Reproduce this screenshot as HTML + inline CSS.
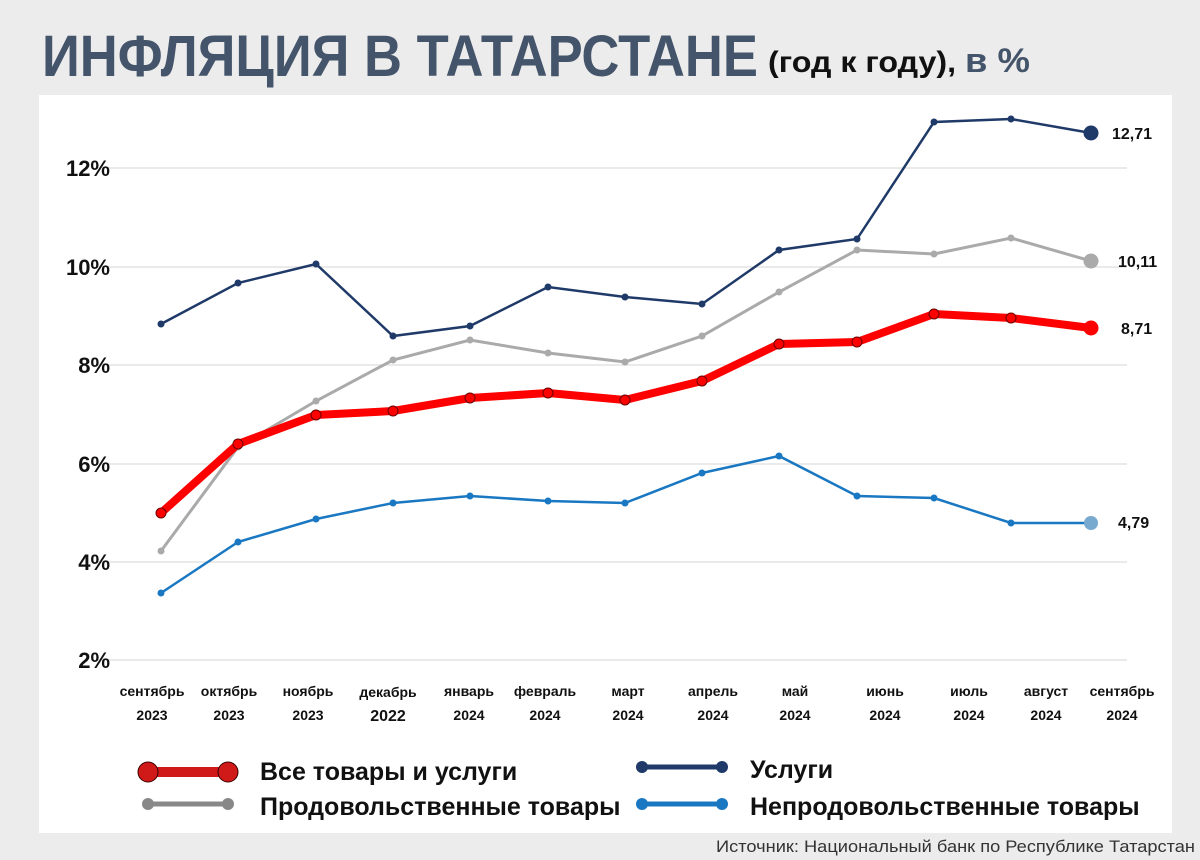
<!DOCTYPE html>
<html><head><meta charset="utf-8"><style>
body{margin:0;width:1200px;height:860px;background:#ececec;overflow:hidden;font-family:"Liberation Sans","DejaVu Sans",sans-serif;}
</style></head><body>
<svg width="1200" height="860" xmlns="http://www.w3.org/2000/svg" style="position:absolute;left:0;top:0">
<text x="42" y="76" font-size="58" font-weight="bold" fill="#44546a" font-family="Liberation Sans, sans-serif" textLength="716" lengthAdjust="spacingAndGlyphs">ИНФЛЯЦИЯ В ТАТАРСТАНЕ</text>
<text x="768" y="72" font-size="30" font-weight="bold" fill="#111" font-family="Liberation Sans, sans-serif" textLength="262" lengthAdjust="spacingAndGlyphs">(год к году), <tspan fill="#44546a" font-size="34">в %</tspan></text>
<rect x="39" y="95" width="1133" height="738" fill="#fff"/>
<g stroke="#e4e4e4" stroke-width="1.5">
<line x1="108" y1="168" x2="1127" y2="168"/><line x1="108" y1="267" x2="1127" y2="267"/><line x1="108" y1="365" x2="1127" y2="365"/><line x1="108" y1="464" x2="1127" y2="464"/><line x1="108" y1="562" x2="1127" y2="562"/><line x1="108" y1="660" x2="1127" y2="660"/>
</g>
<g font-size="22" font-weight="bold" fill="#111" text-anchor="end">
<text x="110" y="176">12%</text><text x="110" y="275">10%</text><text x="110" y="373">8%</text><text x="110" y="472">6%</text><text x="110" y="570">4%</text><text x="110" y="668">2%</text>
</g>
<g font-size="14" font-weight="bold" fill="#111" text-anchor="middle">
<text x="152" y="696">сентябрь</text><text x="152" y="720">2023</text>
<text x="229" y="696">октябрь</text><text x="229" y="720">2023</text>
<text x="308" y="696">ноябрь</text><text x="308" y="720">2023</text>
<text x="388" y="697">декабрь</text><text x="388" y="721" font-size="16">2022</text>
<text x="469" y="696">январь</text><text x="469" y="720">2024</text>
<text x="545" y="696">февраль</text><text x="545" y="720">2024</text>
<text x="628" y="696">март</text><text x="628" y="720">2024</text>
<text x="713" y="696">апрель</text><text x="713" y="720">2024</text>
<text x="795" y="696">май</text><text x="795" y="720">2024</text>
<text x="885" y="696">июнь</text><text x="885" y="720">2024</text>
<text x="969" y="696">июль</text><text x="969" y="720">2024</text>
<text x="1046" y="696">август</text><text x="1046" y="720">2024</text>
<text x="1122" y="696">сентябрь</text><text x="1122" y="720">2024</text>
</g>
<polyline fill="none" stroke="#aaaaaa" stroke-width="3" points="161,551 238,447 316,401 393,360 470,340 548,353 625,362 702,336 779,292 857,250 934,254 1011,238 1091,261"/>
<g fill="#aaaaaa"><circle cx="161" cy="551" r="3.5"/><circle cx="238" cy="447" r="3.5"/><circle cx="316" cy="401" r="3.5"/><circle cx="393" cy="360" r="3.5"/><circle cx="470" cy="340" r="3.5"/><circle cx="548" cy="353" r="3.5"/><circle cx="625" cy="362" r="3.5"/><circle cx="702" cy="336" r="3.5"/><circle cx="779" cy="292" r="3.5"/><circle cx="857" cy="250" r="3.5"/><circle cx="934" cy="254" r="3.5"/><circle cx="1011" cy="238" r="3.5"/><circle cx="1091" cy="261" r="7.5"/></g>
<polyline fill="none" stroke="#1f3a68" stroke-width="2.5" points="161,324 238,283 316,264 393,336 470,326 548,287 625,297 702,304 779,250 857,239 934,122 1011,119 1091,133"/>
<g fill="#1f3a68"><circle cx="161" cy="324" r="3.5"/><circle cx="238" cy="283" r="3.5"/><circle cx="316" cy="264" r="3.5"/><circle cx="393" cy="336" r="3.5"/><circle cx="470" cy="326" r="3.5"/><circle cx="548" cy="287" r="3.5"/><circle cx="625" cy="297" r="3.5"/><circle cx="702" cy="304" r="3.5"/><circle cx="779" cy="250" r="3.5"/><circle cx="857" cy="239" r="3.5"/><circle cx="934" cy="122" r="3.5"/><circle cx="1011" cy="119" r="3.5"/><circle cx="1091" cy="133" r="7.5"/></g>
<polyline fill="none" stroke="#1a78c2" stroke-width="2.5" points="161,593 238,542 316,519 393,503 470,496 548,501 625,503 702,473 779,456 857,496 934,498 1011,523 1091,523"/>
<g fill="#1a78c2"><circle cx="161" cy="593" r="3.5"/><circle cx="238" cy="542" r="3.5"/><circle cx="316" cy="519" r="3.5"/><circle cx="393" cy="503" r="3.5"/><circle cx="470" cy="496" r="3.5"/><circle cx="548" cy="501" r="3.5"/><circle cx="625" cy="503" r="3.5"/><circle cx="702" cy="473" r="3.5"/><circle cx="779" cy="456" r="3.5"/><circle cx="857" cy="496" r="3.5"/><circle cx="934" cy="498" r="3.5"/><circle cx="1011" cy="523" r="3.5"/><circle cx="1091" cy="523" r="7" fill="#78a9cf"/></g>
<polyline fill="none" stroke="#ff0000" stroke-width="8" stroke-linejoin="round" points="161,513 238,444 316,415 393,411 470,398 548,393 625,400 702,381 779,344 857,342 934,314 1011,318 1091,328"/>
<g fill="#ff0000" stroke="#6a0000" stroke-width="1"><circle cx="161" cy="513" r="5"/><circle cx="238" cy="444" r="5"/><circle cx="316" cy="415" r="5"/><circle cx="393" cy="411" r="5"/><circle cx="470" cy="398" r="5"/><circle cx="548" cy="393" r="5"/><circle cx="625" cy="400" r="5"/><circle cx="702" cy="381" r="5"/><circle cx="779" cy="344" r="5"/><circle cx="857" cy="342" r="5"/><circle cx="934" cy="314" r="5"/><circle cx="1011" cy="318" r="5"/></g>
<circle cx="1091" cy="328" r="7.5" fill="#ff0000"/>
<g font-size="16" font-weight="bold" fill="#111">
<text x="1112" y="139">12,71</text><text x="1118" y="267">10,11</text><text x="1121" y="334">8,71</text><text x="1118" y="528">4,79</text>
</g>
<line x1="148" y1="772" x2="228" y2="772" stroke="#d01a1a" stroke-width="10"/>
<circle cx="148" cy="772" r="10" fill="#d01a1a" stroke="#3a0000" stroke-width="1"/><circle cx="228" cy="772" r="10" fill="#d01a1a" stroke="#3a0000" stroke-width="1"/>
<line x1="148" y1="804" x2="228" y2="804" stroke="#888" stroke-width="5" stroke-linecap="round"/>
<circle cx="148" cy="804" r="6" fill="#888"/><circle cx="228" cy="804" r="6" fill="#888"/>
<line x1="642" y1="767" x2="722" y2="767" stroke="#1f3a68" stroke-width="5"/>
<circle cx="642" cy="767" r="6" fill="#1f3a68"/><circle cx="722" cy="767" r="6" fill="#1f3a68"/>
<line x1="642" y1="804" x2="722" y2="804" stroke="#1a78c2" stroke-width="5"/>
<circle cx="642" cy="804" r="6" fill="#1a78c2"/><circle cx="722" cy="804" r="6" fill="#1a78c2"/>
<g font-size="25" font-weight="bold" fill="#111">
<text x="260" y="780">Все товары и услуги</text>
<text x="260" y="815">Продовольственные товары</text>
<text x="750" y="778">Услуги</text>
<text x="750" y="815">Непродовольственные товары</text>
</g>
<text x="716" y="852" font-size="17" fill="#333" textLength="479" lengthAdjust="spacingAndGlyphs">Источник: Национальный банк по Республике Татарстан</text>
</svg>
</body></html>
